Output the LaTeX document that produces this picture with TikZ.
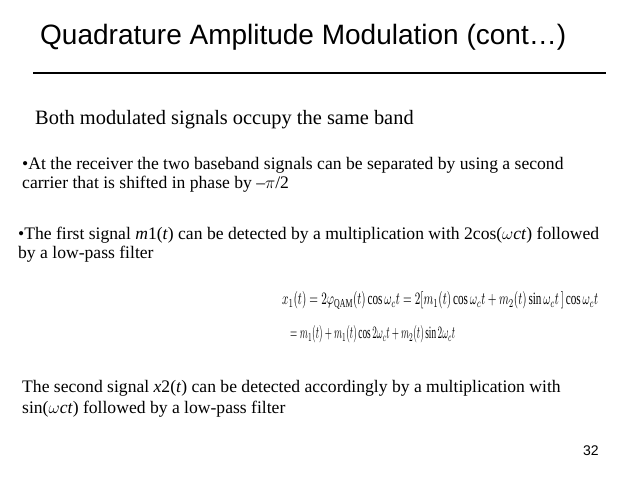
\documentclass[tikz,border=0pt]{standalone}
\usepackage{amsmath}
\usepackage{graphicx}
\usepackage{fontspec}
\setmainfont{Liberation Serif}
\newfontfamily\titlefont{Liberation Sans}
\begin{document}
\begin{tikzpicture}[x=1pt,y=-1pt,
  txt/.style={anchor=base west,inner sep=0pt,font=\fontsize{17.6}{20}\selectfont}]
\useasboundingbox[fill=white] (0,0) rectangle (638,478);
\node[anchor=base west,inner sep=0pt,font=\titlefont\fontsize{28}{30}\selectfont] (title) at (40,45) {Quadrature Amplitude Modulation (cont\ldots)};
\draw[line width=1.5pt] (33,73) -- (606,73);
\node[anchor=base west,inner sep=0pt,font=\fontsize{20.4}{23}\selectfont] (both) at (35,125) {Both modulated signals occupy the same band};
\node[txt] (r1) at (22,170) {\textbullet At the receiver the two baseband signals can be separated by using a second};
\node[txt] (r2) at (22,189) {carrier that is shifted in phase by \textendash$\pi$/2};
\node[txt] (f1) at (18,240) {\textbullet The first signal \textit{m}1(\textit{t}) can be detected by a multiplication with 2cos($\omega$\textit{ct}) followed};
\node[txt] (f2) at (18,259) {by a low-pass filter};
\node[anchor=base west,inner sep=0pt] (e1) at (282,305)
  {\resizebox{316pt}{13pt}{$x_1(t)=2\varphi_{\text{QAM}}(t)\cos\omega_c t = 2[m_1(t)\cos\omega_c t+m_2(t)\sin\omega_c t\,]\cos\omega_c t$}};
\node[anchor=base west,inner sep=0pt] (e2) at (290,339)
  {\resizebox{165pt}{13pt}{$=m_1(t)+m_1(t)\cos 2\omega_c t+m_2(t)\sin 2\omega_c t$}};
\node[txt] (s1) at (22,393) {The second signal \textit{x}2(\textit{t}) can be detected accordingly by a multiplication with};
\node[txt] (s2) at (22,414) {sin($\omega$\textit{ct}) followed by a low-pass filter};
\node[anchor=base west,inner sep=0pt,font=\titlefont\fontsize{14}{16}\selectfont] (pg) at (583,456) {32};
\end{tikzpicture}
\end{document}
